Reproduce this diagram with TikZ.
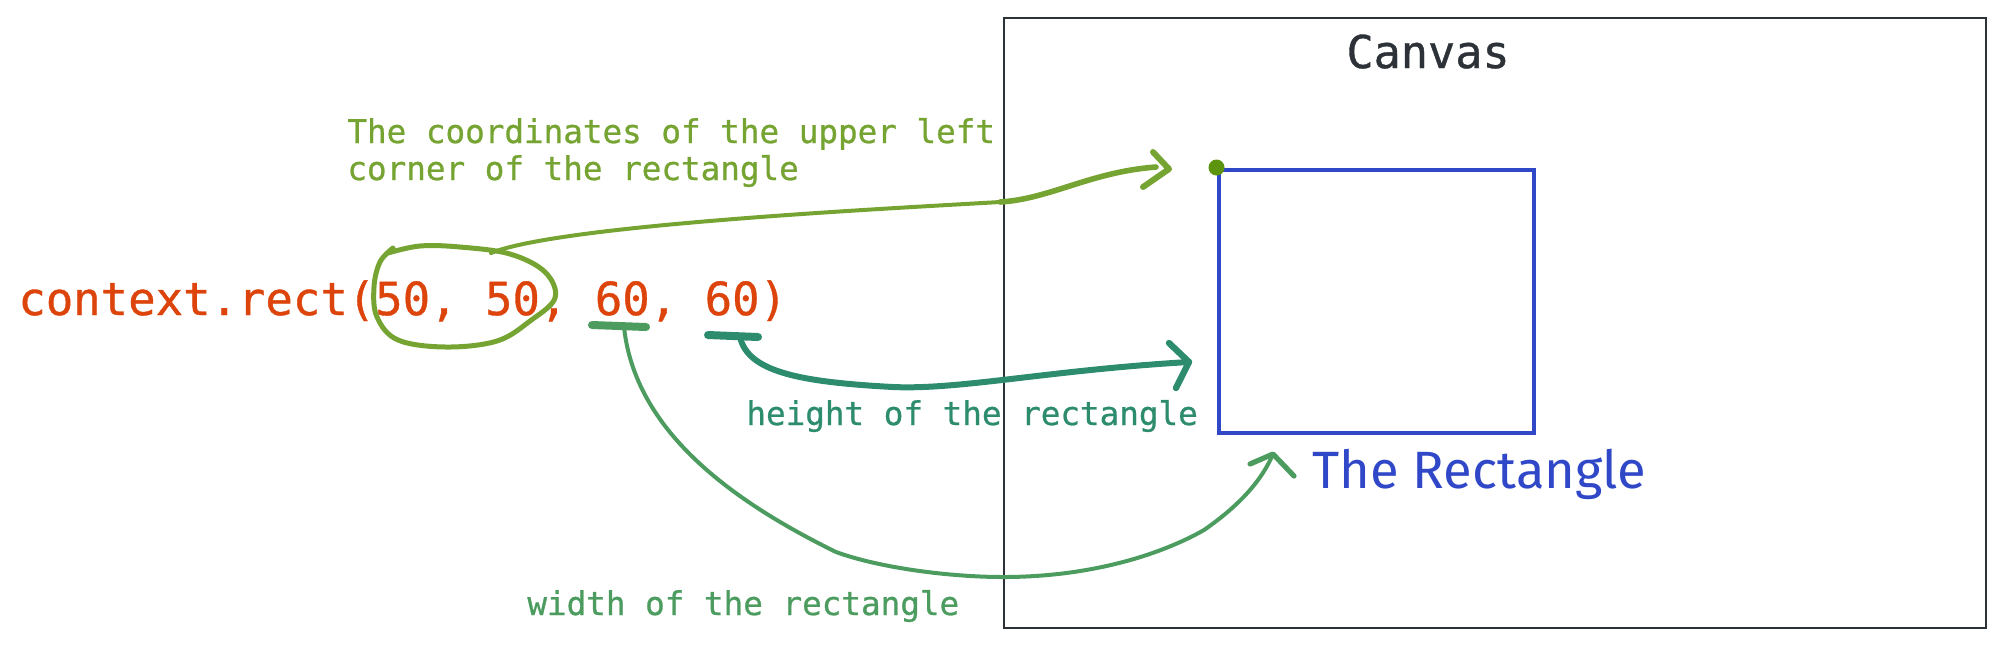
\documentclass[tikz,border=0pt]{standalone}
\usepackage{fontspec}
\setmonofont{DejaVu Sans Mono}
\newfontfamily\medmono{DejaVu Sans Mono}[BoldFont={DejaVu Sans Mono}, BoldFeatures={FakeBold=0.8}]
\newfontfamily\handfont{Fira Sans}
\definecolor{codered}{RGB}{221,68,12}
\definecolor{olive}{RGB}{118,164,50}
\definecolor{tealc}{RGB}{46,140,110}
\definecolor{greenc}{RGB}{76,156,96}
\definecolor{bluec}{RGB}{48,72,200}
\definecolor{dotc}{RGB}{92,148,13}
\definecolor{canvasc}{RGB}{45,50,56}
\tikzset{
  txt/.style={anchor=base west, inner sep=0pt, font=\medmono\bfseries\fontsize{16.3}{20}\selectfont},
  codetxt/.style={anchor=base west, inner sep=0pt, font=\medmono\bfseries\fontsize{22.8}{27}\selectfont, text=codered},
  conn/.style={line cap=round, line join=round},
}
\begin{document}
\begin{tikzpicture}[x=0.5pt,y=-0.5pt]
\useasboundingbox (0,0) rectangle (2000,645);
% canvas frame
\node[draw=canvasc, line width=1pt, inner sep=0pt, minimum width=491pt, minimum height=305pt, anchor=north west] (canvas) at (1003,17) {};
\node[anchor=base west, inner sep=0pt, font=\medmono\bfseries\fontsize{22.6}{27}\selectfont, text=canvasc] (canvaslabel) at (1346,68) {Canvas};
% rectangle
\node[draw=bluec, line width=2pt, inner sep=0pt, minimum width=157.5pt, minimum height=131.75pt, anchor=north west] (rect) at (1216.5,167.5) {};
\fill[dotc] (rect.north west) circle (4pt);
\node[anchor=base west, inner sep=0pt, text=bluec] (rectlabel) at (1312,488) {\resizebox{167pt}{!}{\handfont\fontsize{22}{26}\selectfont The Rectangle}};
% code
\node[codetxt] (call) at (18,315) {context.rect(50, 50, 60, 60)};
% labels
\node[txt, text=olive] (l1) at (347,143) {The coordinates of the upper left};
\node[txt, text=olive] (l2) at (347,180) {corner of the rectangle};
\node[txt, text=tealc] (hl) at (746,425) {height of the rectangle};
\node[txt, text=greenc] (wl) at (527,615) {width of the rectangle};
% olive circle
\draw[olive, line width=2.5pt, conn] plot[smooth, tension=0.6] coordinates {(388,253) (420,246) (460,247) (510,254) (545,272) (555,298) (530,321) (497,341) (446,347) (398,340) (377,317) (374,287) (380,262) (393,248)};
% olive connector
\coordinate (os) at (491,253);
\coordinate (om) at (1000,202);
\coordinate (otip) at (1169,169);
\coordinate (oend) at (1156,167);
\coordinate (oh1) at (1153,152);
\coordinate (oh2) at (1143,187);
\draw[olive, line width=2pt, conn] (os) .. controls (560,225) and (880,209) .. (om);
\draw[olive, line width=2.8pt, conn] (om) .. controls (1050,199) and (1090,172) .. (oend);
\draw[olive, line width=3pt, conn] (oh1) -- (otip) -- (oh2);
% teal connector
\coordinate (td1) at (708,335);
\coordinate (td2) at (758,337);
\coordinate (ts) at (740,337);
\coordinate (tm) at (893,387);
\coordinate (ttip) at (1189,362);
\coordinate (th1) at (1169,343);
\coordinate (th2) at (1176,388);
\draw[tealc, line width=4pt, conn] (td1) -- (td2);
\draw[tealc, line width=3pt, conn] (ts) .. controls (748,372) and (800,382) .. (tm)
  .. controls (960,390) and (1050,370) .. (ttip);
\draw[tealc, line width=3.2pt, conn] (th1) -- (ttip) -- (th2);
% green connector
\coordinate (gd1) at (592,325);
\coordinate (gd2) at (646,327);
\coordinate (gs) at (624,327);
\coordinate (gm1) at (836,552);
\coordinate (gm2) at (1003,577);
\coordinate (gm3) at (1204,530);
\coordinate (gtip) at (1273,454);
\coordinate (gh1) at (1250,464);
\coordinate (gh2) at (1294,476);
\draw[greenc, line width=4pt, conn] (gd1) -- (gd2);
\draw[greenc, line width=2pt, conn] (gs) .. controls (635,430) and (730,500) .. (gm1)
  .. controls (880,568) and (950,577) .. (gm2)
  .. controls (1090,577) and (1160,555) .. (gm3)
  .. controls (1240,505) and (1262,480) .. (gtip);
\draw[greenc, line width=2.6pt, conn] (gh1) -- (gtip) -- (gh2);
\end{tikzpicture}
\end{document}
